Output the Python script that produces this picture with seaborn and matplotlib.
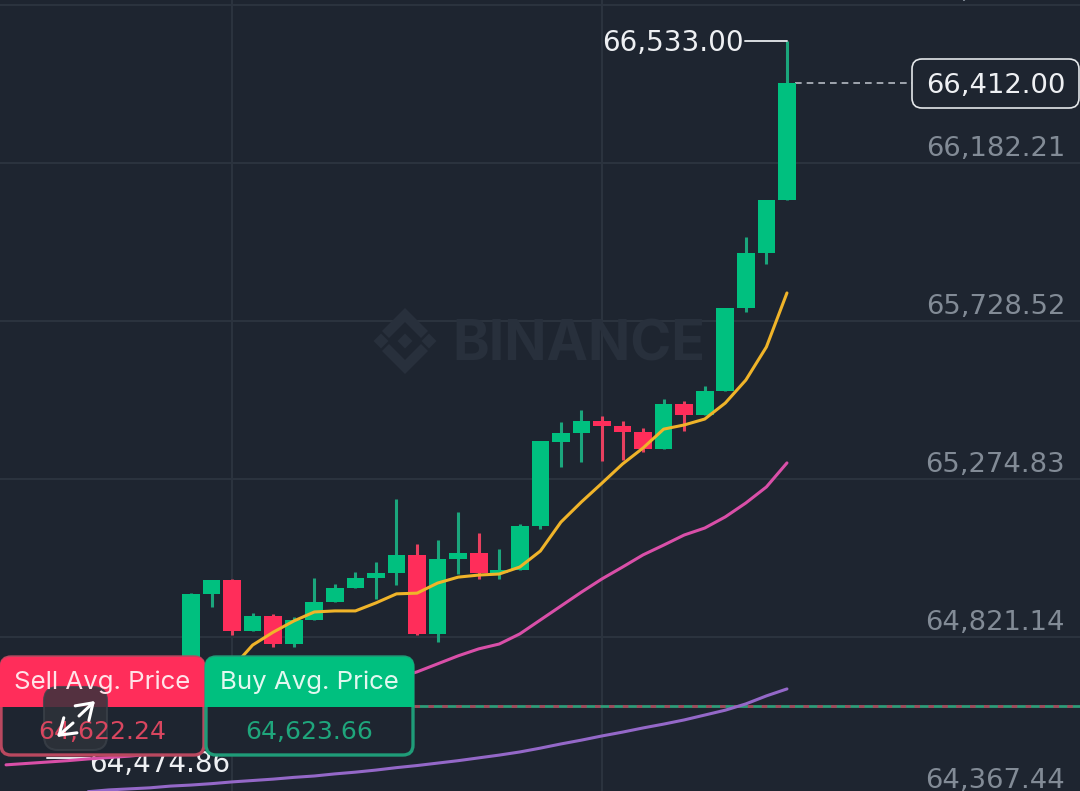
import numpy as np
import pandas as pd
import matplotlib
matplotlib.use("Agg")
import matplotlib.pyplot as plt
from matplotlib.patches import FancyBboxPatch, Polygon, Rectangle
import seaborn as sns

# --- data ---
candle_open = [64640, 64945, 64985, 64838, 64881, 64801, 64870, 64922, 64962, 64991,
               65005, 65057, 64830, 65045, 65062, 65005, 65013, 65140, 65381, 65407,
               65441, 65427, 65410, 65361, 65490, 65458, 65527, 65766, 65924, 66076]
candle_high = [64947, 64985, 64988, 64890, 64887, 64879, 64991, 64973, 65008, 65036,
               65217, 65088, 65100, 65180, 65120, 65074, 65146, 65384, 65438, 65473,
               65456, 65441, 65421, 65504, 65499, 65542, 65766, 65970, 66076, 66533]
candle_low = [64630, 64907, 64827, 64838, 64792, 64792, 64870, 64922, 64962, 64930,
              64970, 64827, 64807, 65002, 64988, 64988, 65013, 65131, 65309, 65324,
              65326, 65329, 65352, 65361, 65413, 65458, 65527, 65754, 65892, 66076]
candle_close = [64945, 64985, 64838, 64881, 64801, 64870, 64922, 64962, 64991, 65005,
                65057, 64830, 65045, 65062, 65005, 65013, 65140, 65384, 65407, 65441,
                65427, 65410, 65361, 65490, 65458, 65527, 65766, 65924, 66076, 66412]

# moving averages, first value sits at the index in the *_start name
ma7_start = 0
ma7 = [64611, 64669, 64732, 64798, 64835, 64867, 64893, 64896, 64896, 64919,
       64945, 64947, 64976, 64993, 64999, 65002, 65022, 65068, 65151, 65209,
       65263, 65318, 65364, 65418, 65430, 65447, 65493, 65559, 65654, 65809]
ma25_start = -9
ma25 = [64454, 64458, 64462, 64466, 64471, 64475, 64479, 64485, 64497, 64517,
        64534, 64554, 64574, 64594, 64614, 64634, 64655, 64672, 64686, 64703,
        64721, 64744, 64767, 64787, 64801, 64830, 64870, 64910, 64950, 64988,
        65022, 65057, 65085, 65114, 65134, 65166, 65206, 65252, 65321]
ma99_start = -5
ma99 = [64377, 64382, 64385, 64388, 64393, 64396, 64400, 64405, 64409, 64413,
        64418, 64422, 64428, 64433, 64439, 64446, 64452, 64459, 64466, 64474,
        64482, 64491, 64502, 64514, 64525, 64537, 64548, 64560, 64571, 64583,
        64597, 64611, 64629, 64652, 64672]

price_ticks = [64367.44, 64821.14, 65274.83, 65728.52, 66182.21, 66635.90]
price_labels = ["64,367.44", "64,821.14", "65,274.83", "65,728.52", "66,182.21", "66,635.90"]
time_grid = [2, 20]

last_price = 66412.00
high_price = 66533.00
low_price = 64474.86
low_index = -7
sell_avg = 64622.24
buy_avg = 64623.66

# colours
BG = "#1E2530"
GRID = "#2C343F"
GREEN = "#00C07F"
RED = "#FF2D5A"
TICK = "#828B96"
WHITE = "#EEF0F3"
NUM_FONT = "DejaVu Sans"  # tabular digits, same width as the app's font

sns.set_style("dark", rc={"axes.facecolor": BG, "figure.facecolor": BG, "grid.color": GRID})
plt.rcParams["font.family"] = ["Inter", "DejaVu Sans"]

fig = plt.figure(figsize=(10.8, 7.91), dpi=100)
ax = fig.add_axes([0, 0, 1, 1])

df = pd.DataFrame({"i": range(len(candle_open)), "open": candle_open, "high": candle_high,
                   "low": candle_low, "close": candle_close})
df["up"] = df["close"] >= df["open"]
df["color"] = np.where(df["up"], GREEN, RED)
df["wick"] = np.where(df["up"], "#1BA67C", "#E8405F")

# candles
ax.vlines(df["i"], df["low"], df["high"], colors=df["wick"], lw=2.2, zorder=2)
ax.bar(df["i"], (df["close"] - df["open"]).abs(), bottom=df[["open", "close"]].min(axis=1),
       width=0.86, color=df["color"], linewidth=0, zorder=3)

# moving averages
ma_lines = [(ma7_start, ma7, "#F0B429"), (ma25_start, ma25, "#D94FA8"), (ma99_start, ma99, "#9468C8")]
for start, values, col in ma_lines:
    sns.lineplot(x=np.arange(start, start + len(values)), y=values, color=col, lw=2.2,
                 ax=ax, zorder=4, legend=False)

# ticks first, set_yticks widens the limits otherwise
ax.set_xticks(time_grid)
ax.set_yticks(price_ticks)
# scales: 20.55 px per candle, 2.8715 price per px
ax.set_xlim(-9.294, 43.26)
ax.set_ylim(64378.9, 66650.26)
ax.tick_params(length=0, labelbottom=False, labelleft=False)
ax.grid(True, color=GRID, lw=1.4)
ax.set_axisbelow(True)
for s in ax.spines.values():
    s.set_visible(False)

# price scale labels
ytrans = ax.get_yaxis_transform()
for v, lab in zip(price_ticks, price_labels):
    ax.annotate(lab, xy=(1065 / 1080, v), xycoords=ytrans, xytext=(0, 12.4),
                textcoords="offset points", ha="right", va="center_baseline",
                fontsize=19.7, color=TICK, family=NUM_FONT)

# last price dashes, average price dashes
ax.plot([795 / 1080, 912 / 1080], [last_price, last_price], transform=ytrans,
        color="#B5BBC3", lw=1.2, ls=(0, (4, 3)), zorder=2)
ax.plot([414 / 1080, 1], [buy_avg, buy_avg], transform=ytrans, color="#2E9C78", lw=2, zorder=2)
ax.plot([414 / 1080, 1], [sell_avg, sell_avg], transform=ytrans, color="#A5475A", lw=2,
        ls=(0, (2, 3)), zorder=2)

# high / low callouts
ax.plot([29 - 2.04, 29], [high_price, high_price], color="#D9DCE0", lw=1.4, zorder=3)
ax.annotate("66,533.00", xy=(29 - 2.04, high_price), xytext=(-1, 0.5), textcoords="offset points",
            ha="right", va="center_baseline", fontsize=20, color=WHITE, family=NUM_FONT)
ax.plot([low_index, low_index + 2.09], [low_price, low_price], color="#E8EAED", lw=1.4, zorder=3)
ax.annotate("64,474.86", xy=(low_index + 2.09, low_price), xytext=(-1, -2.2), textcoords="offset points",
            ha="left", va="center_baseline", fontsize=20, color=WHITE, family=NUM_FONT)

# everything below is the app's overlay, drawn in screen pixels
ui = fig.add_axes([0, 0, 1, 1], facecolor="none")
ui.set_xlim(0, 1080)
ui.set_ylim(791, 0)
ui.axis("off")

# watermark
WM = "#28303C"
for cx, cy in [(405, 341), (381, 341), (429, 341)]:
    ui.add_patch(Polygon([(cx, cy - 7.5), (cx + 7.5, cy), (cx, cy + 7.5), (cx - 7.5, cy)], color=WM, lw=0))
for sgn in (1, -1):
    pts = [(405, 341 - 33 * sgn), (428, 341 - 10 * sgn), (421, 341 - 3 * sgn), (405, 341 - 19 * sgn),
           (389, 341 - 3 * sgn), (382, 341 - 10 * sgn)]
    ui.add_patch(Polygon(pts, color=WM, lw=0))
ui.text(579, 340, "BINANCE", fontsize=40, fontweight="bold", color=WM, ha="center", va="center_baseline")


def avg_box(x0, x1, fill, edge, head_txt, title, value, val_col):
    y0, y1, split = 657, 755, 707
    body = FancyBboxPatch((x0 + 1, y0), x1 - x0 - 2, y1 - y0, boxstyle="round,pad=0,rounding_size=10",
                          fc=BG, ec=edge, lw=2.4, mutation_aspect=1)
    ui.add_patch(body)
    head = FancyBboxPatch((x0, y0), x1 - x0, y1 - y0, boxstyle="round,pad=0,rounding_size=10",
                          fc=fill, ec="none")
    ui.add_patch(head)
    head.set_clip_path(Rectangle((x0, y0), x1 - x0, split - y0, transform=ui.transData))
    ui.text((x0 + x1) / 2, 682, title, fontsize=18.6, color=head_txt, ha="center", va="center")
    ui.text((x0 + x1) / 2, 729.5, value, fontsize=18, color=val_col, ha="center", va="center_baseline",
            family=NUM_FONT)


avg_box(0, 205, RED, "#B9485F", "#FFE3E8", "Sell Avg. Price", f"{sell_avg:,.2f}", "#D8465F")
avg_box(205, 414, GREEN, "#1F9C78", "#E2F8F0", "Buy Avg. Price", f"{buy_avg:,.2f}", "#1FA67C")

# expand button
ui.add_patch(FancyBboxPatch((44, 687), 63, 63, boxstyle="round,pad=0,rounding_size=14",
                            fc="#2E333B", ec="#3A4048", lw=1.5, alpha=0.82))
arrow = dict(arrowstyle="->,head_length=0.6,head_width=0.4", mutation_scale=18, color="white",
             lw=2.2, shrinkA=0, shrinkB=0)
ui.annotate("", xy=(95, 701), xytext=(79, 716), arrowprops=arrow)
ui.annotate("", xy=(57, 737), xytext=(73, 723), arrowprops=arrow)

# last price tag
ui.add_patch(FancyBboxPatch((912, 59), 167, 49, boxstyle="round,pad=0,rounding_size=10",
                            fc=BG, ec="#E4E7EA", lw=1.2))
ui.text(996, 83, f"{last_price:,.2f}", fontsize=19.7, color=WHITE, ha="center", va="center_baseline",
        family=NUM_FONT)

fig.savefig("out.png", dpi=100, facecolor=BG)
